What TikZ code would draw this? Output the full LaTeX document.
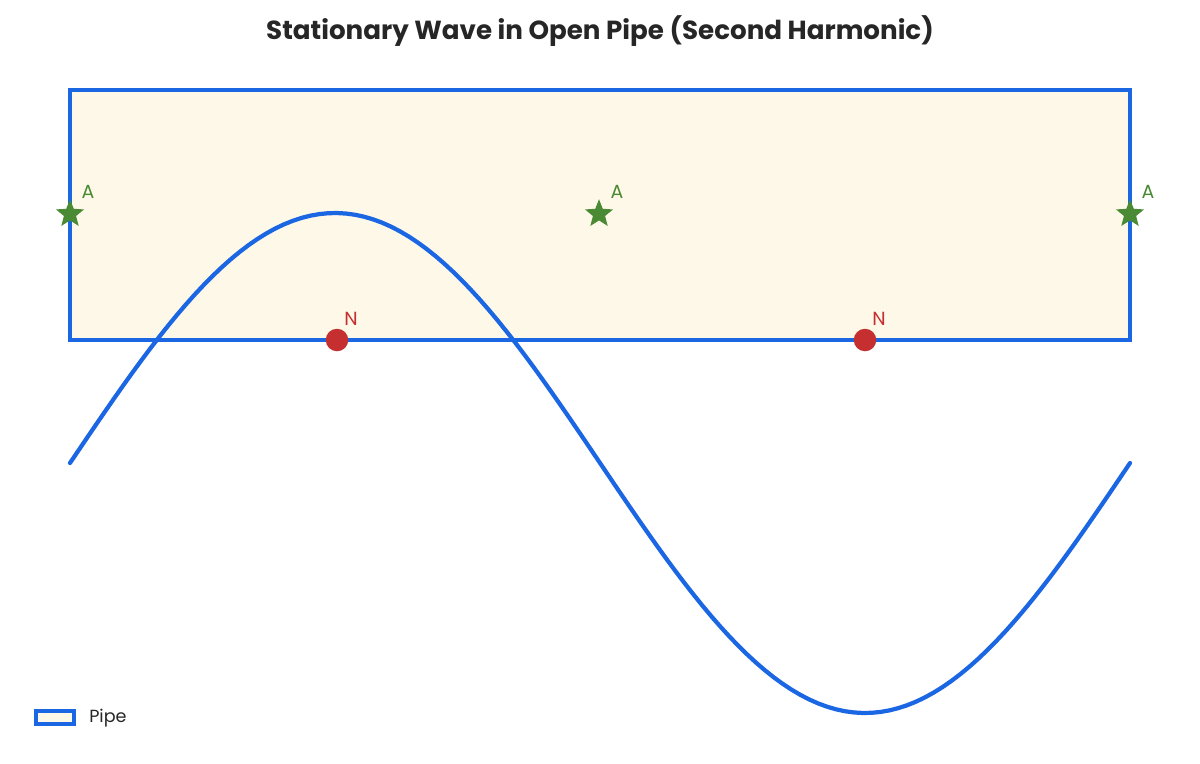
\documentclass[tikz,border=0pt]{standalone}
\usepackage{fontspec}
\setmainfont{Poppins}
\usetikzlibrary{shapes.geometric}

\definecolor{pipeblue}{HTML}{1A66E3}
\definecolor{pipefill}{HTML}{FEF8E8}
\definecolor{antigreen}{HTML}{4A8A35}
\definecolor{nodered}{HTML}{C62F2F}
\definecolor{titlegray}{HTML}{262626}

\tikzset{
    pipeline/.style={draw=pipeblue, line width=3pt, fill=pipefill},
    waveline/.style={draw=pipeblue, line width=3pt, line cap=round},
    antistar/.style={star, star points=5, star point ratio=2.3, fill=antigreen, inner sep=0pt, minimum size=21pt},
    nodedot/.style={circle, fill=nodered, inner sep=0pt, minimum size=16pt},
    marklabel/.style={font=\fontsize{13.5}{15}\selectfont, inner sep=0pt}
}

\begin{document}
\begin{tikzpicture}[x=0.025cm, y=-0.025cm]

            % the frame
            \useasboundingbox (0, 0) rectangle (1200, 763);

            % title
            \node[font=\fontsize{18.6}{22}\selectfont\bfseries, text=titlegray] (title) at (600, 31) {Stationary Wave in Open Pipe (Second Harmonic)};

            % the pipe
            \draw[pipeline] (70, 90) rectangle (1130, 340);

            % the wave
            \draw[waveline] plot[domain=70:1130, samples=120] (\x, {463 - 250*sin(((\x-70)/1060)*360)});

            % antinodes
            \foreach \x/\n in {70/1, 599/2, 1130/3} {
                \node[antistar] (anti\n) at (\x, 214) {};
                \node[marklabel, text=antigreen] (antilabel\n) at (\x+18, 192) {A};
            };

            % nodes
            \foreach \x/\n in {337/1, 865/2} {
                \node[nodedot] (node\n) at (\x, 340) {};
                \node[marklabel, text=nodered] (nodelabel\n) at (\x+14, 319) {N};
            };

            % legend
            \draw[pipeline, line width=2.6pt] (36, 711) rectangle (74, 724);
            \node[right, font=\fontsize{12.5}{14}\selectfont, text=titlegray, inner sep=0pt] (legendtext) at (89, 718) {Pipe};

        \end{tikzpicture}
\end{document}
